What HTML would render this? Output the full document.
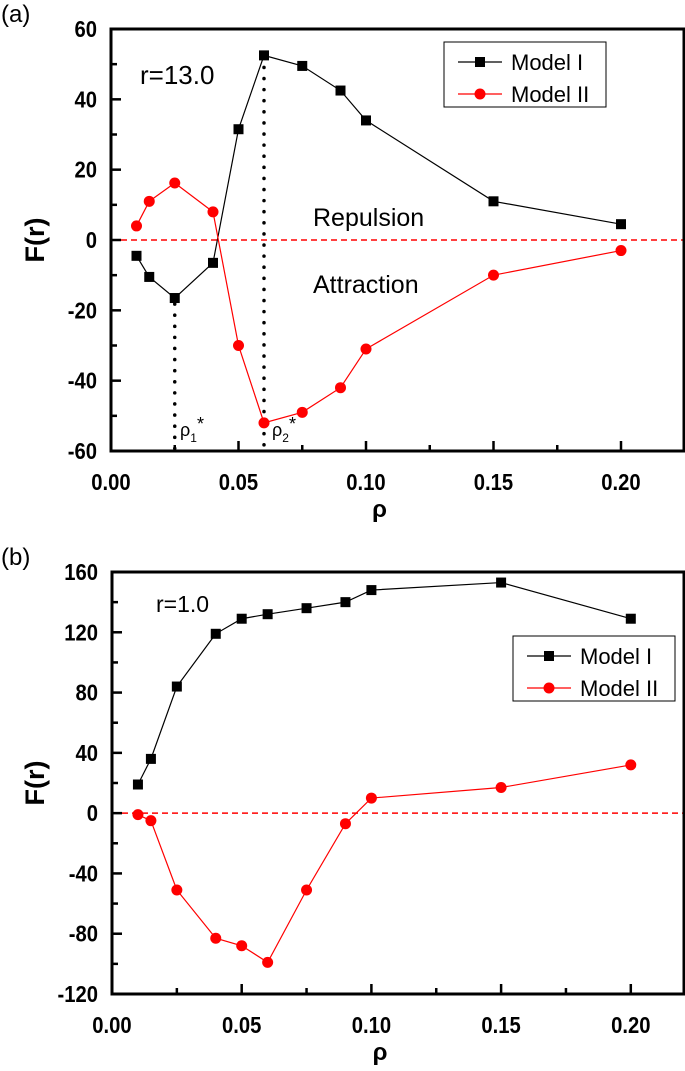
<!DOCTYPE html>
<html><head><meta charset="utf-8"><style>
html,body{margin:0;padding:0;background:#fff;}
svg{display:block;font-family:"Liberation Sans",Arial,sans-serif;}
</style></head><body>
<svg id="chart" width="685" height="1071" viewBox="0 0 685 1071"></svg>
<script>
const rhoA = [0.01,0.015,0.025,0.04,0.05,0.06,0.075,0.09,0.1,0.15,0.2];
const modelIA = [-4.5,-10.5,-16.5,-6.5,31.5,52.5,49.5,42.5,34,11,4.5];
const modelIIA = [4,11,16.2,8,-30,-52,-49,-42,-31,-10,-3];
const rhoB = [0.01,0.015,0.025,0.04,0.05,0.06,0.075,0.09,0.1,0.15,0.2];
const modelIB = [19,36,84,119,129,132,136,140,148,153,129];
const modelIIB = [-1,-5,-51,-83,-88,-99,-51,-7,10,17,32];
const xTicks = ["0.00","0.05","0.10","0.15","0.20"];
const yTicksA = ["-60","-40","-20","0","20","40","60"];
const yTicksB = ["-120","-80","-40","0","40","80","120","160"];
const rhoStars = [0.025,0.06];

const NS="http://www.w3.org/2000/svg";
const svg=document.getElementById('chart');
function mk(tag,attrs,parent){const e=document.createElementNS(NS,tag);for(const k in attrs)e.setAttribute(k,attrs[k]);(parent||svg).appendChild(e);return e;}

function panel(cfg){
  const g=mk('g',{});
  
  
  const L=cfg.left,R=684,T=cfg.top,B=cfg.bottom;
  const sx=v=>L+v/0.05*cfg.xStep;
  const sy=v=>B-(v-cfg.ymin)/(cfg.ymax-cfg.ymin)*(B-T);
  const z=mk('line',{x1:L,x2:R,y1:sy(0),y2:sy(0),stroke:'#f00','stroke-width':1.5,'stroke-dasharray':'6,4'},g);
  
  
  for(let i=0;i<=8;i++){
    const v=i*0.025,x=sx(v),maj=i%2==0;
    mk('line',{x1:x,x2:x,y1:B,y2:B-(maj?10:6),stroke:'#000','stroke-width':2.5},g);
    if(maj){const t=mk('text',{x:0,y:0,'text-anchor':'middle','font-size':23,'font-weight':'bold',transform:'translate('+x+','+(B+39)+') scale(0.88,1)'},g);t.textContent=xTicks[i/2];
      
      }
  }
  const nT=cfg.yTicks.length, step=(cfg.ymax-cfg.ymin)/(nT-1);
  for(let i=0;i<nT*2-1;i++){
    const v=cfg.ymin+i*step/2,y=sy(v),maj=i%2==0;
    mk('line',{x1:L,x2:L+(maj?10:6),y1:y,y2:y,stroke:'#000','stroke-width':2.5},g);
    if(maj){const t=mk('text',{x:0,y:0,'text-anchor':'end','font-size':23,'font-weight':'bold',transform:'translate('+(L-14)+','+(y+8)+') scale(0.88,1)'},g);t.textContent=cfg.yTicks[i/2];
      
      }
  }
  const box=mk('rect',{x:L,y:T,width:R-L,height:B-T,fill:'none',stroke:'#000','stroke-width':3},g);
  
  
  function series(xs,ys,color,shape,nm){
    const sg=mk('g',{},g);
    
    
    mk('polyline',{points:xs.map((x,i)=>sx(x)+','+sy(ys[i])).join(' '),fill:'none',stroke:color,'stroke-width':1.2},sg);
    xs.forEach((x,i)=>{
      let m;
      if(shape=='sq') m=mk('rect',{x:sx(x)-5,y:sy(ys[i])-5,width:10,height:10,fill:color},sg);
      else m=mk('circle',{cx:sx(x),cy:sy(ys[i]),r:5.5,fill:color},sg);
      
      
    });
  }
  if(cfg.stars){
    cfg.stars.forEach((r,i)=>{
      const ytop=i==0?sy(cfg.yI[cfg.xs.indexOf(r)]):sy(cfg.yI[cfg.xs.indexOf(r)])+6;
      const d=mk('line',{x1:sx(r),x2:sx(r),y1:ytop+6,y2:B,stroke:'#000','stroke-width':3.5,'stroke-dasharray':'0.1,11','stroke-linecap':'round'},g);
      
      
    });
  }
  series(cfg.xs,cfg.yI,'#000','sq','model-i-series');
  series(cfg.xs,cfg.yII,'#f00','ci','model-ii-series');
  const lg=mk('g',{},g);
  
  
  const lx=cfg.leg[0],ly=cfg.leg[1];
  mk('rect',{x:lx,y:ly,width:162,height:65,fill:'#fff',stroke:'#000','stroke-width':1},lg);
  [['Model I','#000','sq'],['Model II','#f00','ci']].forEach((e,i)=>{
    const y=ly+20+i*32;
    const eg=mk('g',{},lg);
    
    
    mk('line',{x1:lx+14,x2:lx+58,y1:y,y2:y,stroke:e[1],'stroke-width':1.2},eg);
    if(e[2]=='sq')mk('rect',{x:lx+31,y:y-5,width:10,height:10,fill:e[1]},eg);
    else mk('circle',{cx:lx+36,cy:y,r:5.5,fill:e[1]},eg);
    const t=mk('text',{x:lx+67,y:y+8,'font-size':22},eg);t.textContent=e[0];
  });
  const xt=mk('text',{x:(L+R)/2-18,y:B+66,'text-anchor':'middle','font-size':24,'font-weight':'bold'},g);xt.textContent='ρ';
  
  
  const ym=(T+B)/2;
  const yt=mk('text',{x:44,y:ym,'text-anchor':'middle','font-size':27,'font-weight':'bold',transform:'rotate(-90 44 '+ym+')'},g);yt.textContent='F(r)';
  
  
  const pl=mk('text',{x:1,y:cfg.top-7,'font-size':24},g);pl.textContent=cfg.label;
  
  
  const rl=mk('text',{x:cfg.rLab[0],y:cfg.rLab[1],'font-size':cfg.rLab[2]},g);rl.textContent=cfg.rText;
  
  
  return {sx,sy,g};
}

const A=panel({name:'panel-a',left:111,top:29,bottom:451,xStep:127.5,ymin:-60,ymax:60,yTicks:yTicksA,xs:rhoA,yI:modelIA,yII:modelIIA,leg:[444,42],label:'(a)',rText:'r=13.0',rLab:[140,84,26],stars:rhoStars});
const B=panel({name:'panel-b',left:112,top:572,bottom:994,xStep:129.7,ymin:-120,ymax:160,yTicks:yTicksB,xs:rhoB,yI:modelIB,yII:modelIIB,leg:[513,636],label:'(b)',rText:'r=1.0',rLab:[156,612,23]});

function txt(x,y,s,size,nm,g){const t=mk('text',{x:x,y:y,'font-size':size},g);t.textContent=s;
  
  return t;}
txt(313,226,'Repulsion',25,'repulsion-label',A.g);
txt(313,293,'Attraction',25,'attraction-label',A.g);
const s1=mk('text',{x:180,y:436,'font-size':18},A.g);s1.innerHTML='ρ<tspan font-size="12" dy="6">1</tspan><tspan dy="-12">*</tspan>';


const s2=mk('text',{x:272,y:436,'font-size':18},A.g);s2.innerHTML='ρ<tspan font-size="12" dy="6">2</tspan><tspan dy="-12">*</tspan>';


</script>
</body></html>
